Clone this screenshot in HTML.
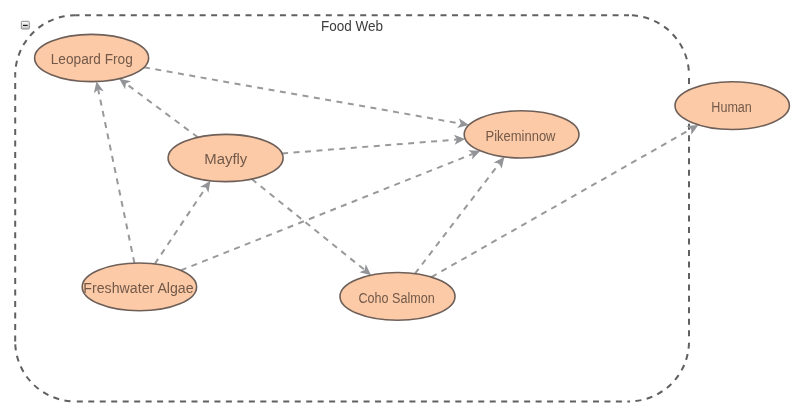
<!DOCTYPE html>
<html><head><meta charset="utf-8"><style>
html,body{margin:0;padding:0;background:#ffffff;width:800px;height:416px;overflow:hidden}
svg{display:block;will-change:transform}
.ed{stroke:#999999;stroke-width:2;stroke-dasharray:6 5.5;fill:none}
.ar{fill:#929497;stroke:none}
.el{fill:#fccaa6;stroke:#6e5f58;stroke-width:1.6}
.lb{opacity:0.999;font-family:"Liberation Sans",sans-serif;font-size:14px;fill:#72594a;text-anchor:middle}
.ct{stroke:#606060;stroke-width:2;stroke-dasharray:6 5.47;fill:none}
.tt{opacity:0.999;font-family:"Liberation Sans",sans-serif;font-size:14px;fill:#3c3c3c;text-anchor:middle}
</style></head><body>
<svg width="800" height="416" viewBox="0 0 800 416">
<path class="ct" d="M75.2,15.3 L629.0,15.3" stroke-dashoffset="1.72"/>
<path class="ct" d="M689.0,75.3 L689.0,341.4" stroke-dashoffset="8.84"/>
<path class="ct" d="M75.2,401.4 L629.0,401.4" stroke-dashoffset="9.87"/>
<path class="ct" d="M15.2,75.3 L15.2,341.4" stroke-dashoffset="3.7"/>
<path class="ct" d="M629.0,15.3 A60,60 0 0 1 689.0,75.3" stroke-dashoffset="8.47"/>
<path class="ct" d="M689.0,341.4 A60,60 0 0 1 629.0,401.4" stroke-dashoffset="10.17"/>
<path class="ct" d="M75.2,401.4 A60,60 0 0 1 15.2,341.4" stroke-dashoffset="6.67"/>
<path class="ct" d="M15.2,75.3 A60,60 0 0 1 75.2,15.3" stroke-dashoffset="2.8"/>
<text x="352" y="31.3" textLength="62" lengthAdjust="spacingAndGlyphs" class="tt">Food Web</text>
<g>
<defs><linearGradient id="ig" x1="0" y1="0" x2="0" y2="1"><stop offset="0" stop-color="#ffffff"/><stop offset="1" stop-color="#c4c4c4"/></linearGradient></defs>
<rect x="21.3" y="21.3" width="8" height="7.7" rx="0.8" fill="url(#ig)" stroke="#8e8e8e" stroke-width="1"/>
<line x1="23" y1="25.4" x2="27.6" y2="25.4" stroke="#1a1a1a" stroke-width="1.2"/>
</g>
<line x1="143.98" y1="67.31" x2="460.79" y2="123.60" class="ed"/>
<path class="ar" d="M468.91,125.04 L457.20,128.04 L460.79,123.60 L458.95,118.19 Z"/>
<line x1="197.89" y1="137.32" x2="125.86" y2="83.57" class="ed"/>
<path class="ar" d="M119.25,78.64 L131.06,81.21 L125.86,83.57 L125.08,89.22 Z"/>
<line x1="134.43" y1="263.09" x2="98.20" y2="89.59" class="ed"/>
<path class="ar" d="M96.51,81.51 L103.65,91.26 L98.20,89.59 L93.86,93.30 Z"/>
<line x1="154.79" y1="263.88" x2="205.79" y2="187.62" class="ed"/>
<path class="ar" d="M210.38,180.76 L208.42,192.68 L205.79,187.62 L200.11,187.12 Z"/>
<line x1="180.77" y1="270.39" x2="472.75" y2="153.89" class="ed"/>
<path class="ar" d="M480.41,150.84 L472.04,159.56 L472.75,153.89 L468.34,150.27 Z"/>
<line x1="282.04" y1="153.50" x2="457.03" y2="139.55" class="ed"/>
<path class="ar" d="M465.25,138.89 L454.68,144.75 L457.03,139.55 L453.89,134.78 Z"/>
<line x1="251.71" y1="179.03" x2="364.70" y2="269.99" class="ed"/>
<path class="ar" d="M371.12,275.16 L359.42,272.16 L364.70,269.99 L365.69,264.37 Z"/>
<line x1="414.95" y1="273.63" x2="499.34" y2="163.46" class="ed"/>
<path class="ar" d="M504.36,156.91 L501.64,168.68 L499.34,163.46 L493.70,162.60 Z"/>
<line x1="431.38" y1="277.09" x2="691.22" y2="128.96" class="ed"/>
<path class="ar" d="M698.39,124.88 L691.31,134.67 L691.22,128.96 L686.35,125.98 Z"/>
<ellipse cx="91.6" cy="58.0" rx="57.0" ry="23.6" class="el"/>
<text x="91.75" y="64.0" textLength="82" lengthAdjust="spacingAndGlyphs" class="lb">Leopard Frog</text>
<ellipse cx="732.2" cy="105.6" rx="57.2" ry="23.9" class="el"/>
<text x="731.6" y="111.6" textLength="40.5" lengthAdjust="spacingAndGlyphs" class="lb">Human</text>
<ellipse cx="521.6" cy="134.4" rx="57.4" ry="23.6" class="el"/>
<text x="520.5" y="140.6" textLength="70" lengthAdjust="spacingAndGlyphs" class="lb">Pikeminnow</text>
<ellipse cx="225.6" cy="158.0" rx="57.5" ry="23.6" class="el"/>
<text x="225.8" y="164.0" textLength="43" lengthAdjust="spacingAndGlyphs" class="lb">Mayfly</text>
<ellipse cx="139.4" cy="286.9" rx="57.2" ry="23.9" class="el"/>
<text x="138.5" y="293.1" textLength="110.3" lengthAdjust="spacingAndGlyphs" class="lb">Freshwater Algae</text>
<ellipse cx="397.5" cy="296.4" rx="57.5" ry="23.9" class="el"/>
<text x="396.6" y="302.8" textLength="76.2" lengthAdjust="spacingAndGlyphs" class="lb">Coho Salmon</text>
</svg>
</body></html>
